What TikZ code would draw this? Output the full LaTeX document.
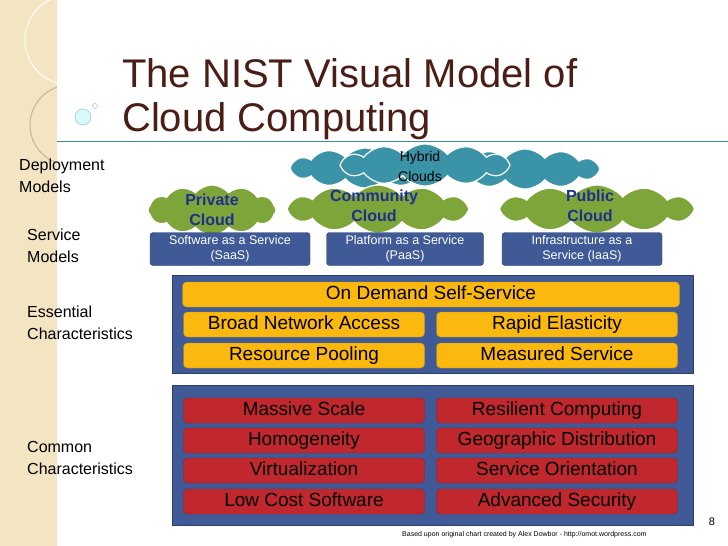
\documentclass[tikz,border=0pt]{standalone}
\usepackage{fontspec}
\setmainfont{Liberation Sans}
\usetikzlibrary{shapes.symbols}
\definecolor{beige}{HTML}{F3E4C2}
\definecolor{titlec}{HTML}{4A1E14}
\definecolor{teal}{HTML}{3C8A9C}
\definecolor{hyb}{HTML}{3A93A6}
\definecolor{grn}{HTML}{7DA53A}
\definecolor{cblue}{HTML}{1F2F8C}
\definecolor{boxb}{HTML}{3F5A96}
\definecolor{yel}{HTML}{FBB80F}
\definecolor{redc}{HTML}{C1282D}
\begin{document}
\begin{tikzpicture}[x=1pt,y=-1pt,
  lab/.style={anchor=north west,align=left,font=\fontsize{16}{22}\selectfont,inner sep=0},
  cld/.style={cloud,cloud puffs=12,cloud puff arc=100,draw=white,line width=1.2pt,inner sep=0},
  ctext/.style={align=center,font=\bfseries\fontsize{16}{20}\selectfont,text=cblue},
  svc/.style={draw=boxb!70!black,fill=boxb,rounded corners=3pt,text=white,align=center,font=\fontsize{12.5}{15}\selectfont,minimum height=33pt,inner sep=0},
  bar/.style={rounded corners=4pt,minimum height=25pt,inner sep=0,text height=13.5pt,text depth=4pt,font=\fontsize{19}{20}\selectfont},
  yb/.style={bar,draw=yel!80!black,fill=yel},
  rb/.style={bar,draw=redc!75!black,fill=redc},
  big/.style={fill=boxb,draw=boxb!70!black}]
\useasboundingbox (0,0) rectangle (728,546);
\fill[white] (0,0) rectangle (728,546);
% left stripe
\fill[beige] (0,0) rectangle (57,546);
\draw[white,line width=1pt] (70,40) circle (45);
\draw[beige!80!black,line width=1pt] (70,125) circle (40);
\fill[white] (57,0) rectangle (728,546);
\draw[teal!60,fill=blue!10!cyan!15] (83,117) circle (8);
\draw[teal!60] (95,106) circle (2.5);
\draw[teal,line width=0.8pt] (57,141) -- (728,141);
% title
\node[anchor=base west,inner sep=0,text=titlec,font=\fontsize{40}{46}\selectfont] (t1) at (122,87) {The NIST Visual Model of};
\node[anchor=base west,inner sep=0,text=titlec,font=\fontsize{40}{46}\selectfont] (t2) at (122,131) {Cloud Computing};
% left labels
\node[lab] (dm) at (19,159) {Deployment\\Models};
\node[lab] (sm) at (27,229) {Service\\Models};
\node[lab] (ec) at (27,306) {Essential\\Characteristics};
\node[lab] (cc) at (27,441) {Common\\Characteristics};
% hybrid clouds
\node[cld,fill=hyb,minimum width=150pt,minimum height=40pt] (h1) at (365,168) {};
\node[cld,fill=hyb,minimum width=150pt,minimum height=40pt] (h2) at (525,169) {};
\node[cld,fill=hyb,minimum width=170pt,minimum height=42pt] (h3) at (425,165) {};
\node[align=center,font=\fontsize{14}{20}\selectfont] (hy) at (420,166) {Hybrid\\Clouds};
% deployment clouds
\node[cld,fill=grn,minimum width=128pt,minimum height=50pt] (pr) at (212,210) {};
\node[ctext] at (pr) {Private\\Cloud};
\node[cld,fill=grn,minimum width=182pt,minimum height=48pt] (co) at (378,209) {};
\node[ctext] at (374,206) {Community\\Cloud};
\node[cld,fill=grn,minimum width=195pt,minimum height=48pt] (pu) at (597,209) {};
\node[ctext] at (590,206) {Public\\Cloud};
% service models
\node[svc,minimum width=160pt] (saas) at (230,249) {Software as a Service\\(SaaS)};
\node[svc,minimum width=157pt] (paas) at (405,249) {Platform as a Service\\(PaaS)};
\node[svc,minimum width=160pt] (iaas) at (582,249) {Infrastructure as a\\Service (IaaS)};
% essential
\fill[big] (172,275) rectangle (693,373);
\node[yb,minimum width=497pt] (od) at (431,294.5) {On Demand Self-Service};
\node[yb,minimum width=241pt] (bn) at (304,324.5) {Broad Network Access};
\node[yb,minimum width=241pt] (re) at (557,324.5) {Rapid Elasticity};
\node[yb,minimum width=241pt] (rp) at (304,355.5) {Resource Pooling};
\node[yb,minimum width=241pt] (ms) at (557,355.5) {Measured Service};
% common
\fill[big] (172,385) rectangle (693,525);
\node[rb,minimum width=241pt] (c1) at (304,410.5) {Massive Scale};
\node[rb,minimum width=241pt] (c2) at (557,410.5) {Resilient Computing};
\node[rb,minimum width=241pt] (c3) at (304,440.5) {Homogeneity};
\node[rb,minimum width=241pt] (c4) at (557,440.5) {Geographic Distribution};
\node[rb,minimum width=241pt] (c5) at (304,470.5) {Virtualization};
\node[rb,minimum width=241pt] (c6) at (557,470.5) {Service Orientation};
\node[rb,minimum width=241pt] (c7) at (304,501.5) {Low Cost Software};
\node[rb,minimum width=241pt] (c8) at (557,501.5) {Advanced Security};
% footer
\node[inner sep=0,font=\fontsize{11}{12}\selectfont] (pg) at (712,522) {8};
\node[anchor=west,inner sep=0,font=\fontsize{7}{8}\selectfont] (ft) at (402,535) {Based upon original chart created by Alex Dowbor - http://omot.wordpress.com};
\end{tikzpicture}
\end{document}
